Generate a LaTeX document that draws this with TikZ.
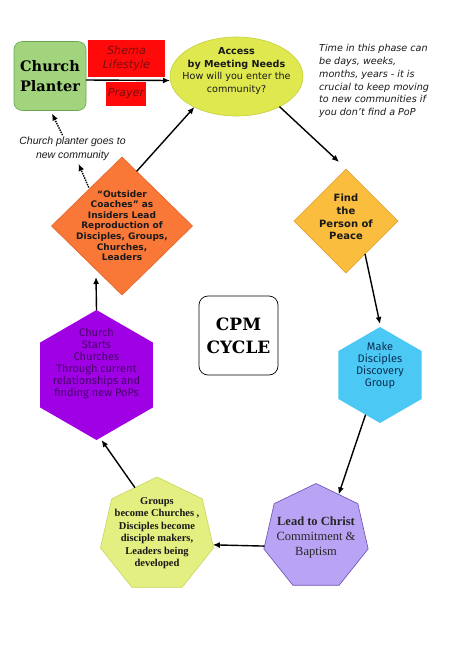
\documentclass[tikz,border=0pt]{standalone}
\usepackage{fontspec}
\setmainfont{DejaVu Sans}
\newfontfamily\slabfont{DejaVu Serif}
\newfontfamily\capfont{Liberation Sans}
\newfontfamily\hexfont{Fira Sans}
\newfontfamily\bookfont{Liberation Serif}
\usetikzlibrary{shapes.geometric, arrows.meta, positioning}
\newcommand{\fs}[2]{\fontsize{#1}{#2}\selectfont}

\begin{document}
\begin{tikzpicture}[x=1pt, y=-1pt,
    arr/.style={line width=1.4pt, -{Latex[length=7pt,width=6pt]}},
    dotarr/.style={arr, densely dotted},
    shapebox/.style={inner sep=0pt, outer sep=0pt, line width=0.6pt},
    stagetext/.style={align=center, inner sep=0pt}]
    \definecolor{planterfill}{HTML}{A2D47E}
    \definecolor{planterline}{HTML}{6AA84F}
    \definecolor{redbox}{HTML}{FF0A0A}
    \definecolor{redtext}{HTML}{7E0D0D}
    \definecolor{accessfill}{HTML}{DFE84E}
    \definecolor{accessline}{HTML}{C5CF3A}
    \definecolor{coachfill}{HTML}{FA7837}
    \definecolor{coachline}{HTML}{E2642A}
    \definecolor{popfill}{HTML}{FBBD3D}
    \definecolor{popline}{HTML}{DDA033}
    \definecolor{churchfill}{HTML}{A000E4}
    \definecolor{churchtext}{HTML}{46006A}
    \definecolor{mddfill}{HTML}{4CC8F4}
    \definecolor{mddtext}{HTML}{0A2F55}
    \definecolor{christfill}{HTML}{B9A3F4}
    \definecolor{christline}{HTML}{6B4DB3}
    \definecolor{groupfill}{HTML}{E3EF80}
    \definecolor{groupline}{HTML}{C9D65E}

    % Page frame
    \fill[white] (0,0) rectangle (474,670);
    \useasboundingbox (0,0) rectangle (474,670);

    % Church planter and the way in
    \node[shapebox, draw=planterline, fill=planterfill, rounded corners=8pt,
        minimum width=72pt, minimum height=69pt, align=center,
        font=\slabfont\bfseries\fs{14.5}{20}] (planter) at (50,76) {Church\\Planter};
    \node[shapebox, fill=redbox, minimum width=77pt, minimum height=37pt, align=center,
        text=redtext, font=\itshape\fs{11.2}{14}] (shema) at (126.5,58.5) {Shema\\Lifestyle};
    \node[shapebox, fill=redbox, minimum width=40pt, minimum height=24pt,
        text=redtext, font=\itshape\fs{11.2}{14}] (prayer) at (126,94) {Prayer};
    \node[shapebox, draw=accessline, fill=accessfill, ellipse,
        minimum width=133pt, minimum height=79pt] (access) at (236.5,76.5) {};
    \node[stagetext, text=black!90, font=\fs{9.6}{12.6}] (accesstext) at (236.5,71)
        {\textbf{Access}\\\textbf{by Meeting Needs}\\How will you enter the\\community?};

    % Notes
    \node[anchor=west, align=left, inner sep=0pt, text=black!90, font=\itshape\fs{9.6}{12.8}] (phasenote) at (319,81)
        {Time in this phase can\\be days, weeks,\\months, years - it is\\crucial to keep moving\\to new communities if\\you don't find a PoP};
    \node[align=center, inner sep=0pt, text=black!90, font=\capfont\itshape\fs{10.5}{13.5}] (movenote) at (72.5,149)
        {Church planter goes to\\new community};

    % Stages of the cycle
    \node[shapebox, draw=popline, fill=popfill, diamond, aspect=1,
        minimum width=104pt, minimum height=104pt] (pop) at (346,221) {};
    \node[stagetext, text=black!90, font=\bfseries\fs{10}{12.8}] (poptext) at (346,217)
        {Find\\the\\Person of\\Peace};
    \node[shapebox, fill=mddfill, regular polygon, regular polygon sides=6,
        shape border rotate=30, minimum size=96pt] (mdd) at (380,375) {};
    \node[stagetext, text=mddtext, font=\hexfont\fs{11}{12}] (mddtext) at (380,366)
        {Make\\Disciples\\Discovery\\Group};
    \node[shapebox, draw=christline, fill=christfill, regular polygon, regular polygon sides=7,
        minimum size=107pt] (christ) at (316,537) {};
    \node[stagetext, text=black!85, font=\bookfont\fs{12.5}{15}] (christtext) at (316,537)
        {\textbf{Lead to Christ}\\Commitment \&\\Baptism};
    \node[shapebox, draw=groupline, fill=groupfill, regular polygon, regular polygon sides=7,
        minimum size=116pt] (groups) at (157,535) {};
    \node[stagetext, text=black!90, font=\bookfont\bfseries\fs{10.5}{12.5}] (groupstext) at (157,533)
        {Groups\\become Churches ,\\Disciples become\\disciple makers,\\Leaders being\\developed};
    \node[shapebox, fill=churchfill, regular polygon, regular polygon sides=6,
        shape border rotate=30, minimum size=130pt] (church) at (96.5,375) {};
    \node[stagetext, text=churchtext, font=\hexfont\fs{11}{12}] (churchtext) at (96.5,364)
        {Church\\Starts\\Churches\\Through current\\relationships and\\finding new PoPs};
    \node[shapebox, draw=coachline, fill=coachfill, diamond, aspect=1,
        minimum width=141pt, minimum height=138pt] (coach) at (122,226) {};
    \node[stagetext, text=black!90, font=\bfseries\fs{9}{10.6}] (coachtext) at (122,225.5)
        {``Outsider\\Coaches'' as\\Insiders Lead\\Reproduction of\\Disciples, Groups,\\Churches,\\Leaders};

    % Centre label
    \node[draw=black, line width=0.7pt, rounded corners=9pt, minimum width=79pt,
        minimum height=79pt, align=center, font=\slabfont\bfseries\fs{17}{23}] (cpm) at (238.5,335.5)
        {CPM\\CYCLE};

    % Connectors
    \coordinate (coachfoot) at (96,277);
    \draw[arr] ([yshift=-4pt]planter.east) -- ([yshift=-4pt]access.west);
    \draw[arr] (access.-35) -- ([xshift=-7pt,yshift=7pt]pop.north);
    \draw[arr] (pop.-60) -- ([yshift=3pt]mdd.north);
    \draw[arr] (mdd.250) -- (christ.62);
    \draw[arr] (christ.190) -- (groups.-10);
    \draw[arr] (groups.115) -- ([xshift=5pt]church.south);
    \draw[arr] (church.north) -- (coachfoot);
    \draw[arr] (coach.75) -- (access.216);
    \draw[dotarr] ([shift={(2pt,4pt)}]coach.north west) -- ([xshift=6pt,yshift=-3pt]movenote.south);
    \draw[dotarr] ([xshift=-10pt,yshift=2pt]movenote.north) -- ([xshift=2pt,yshift=-3pt]planter.south);
\end{tikzpicture}
\end{document}
